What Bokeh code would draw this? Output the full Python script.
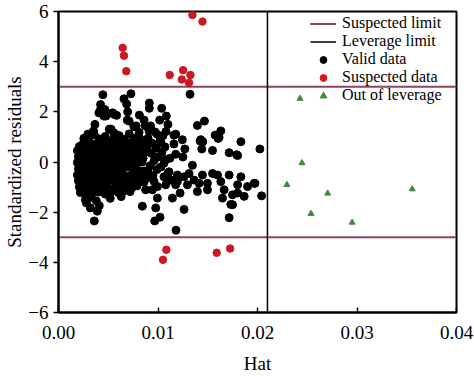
from bokeh.plotting import figure
from bokeh.models import FixedTicker, CustomJSTickFormatter
from bokeh.embed import file_html
from bokeh.resources import INLINE

# ---------------- data ----------------
x_ticks = [0.0, 0.01, 0.02, 0.03, 0.04]
y_ticks = [-6, -4, -2, 0, 2, 4, 6]
suspected_limit = 3.0
leverage_limit = 0.021

# valid data (hat, standardized residual)
valid_points = [
    # dense cluster rows
    (0.0026, 0.95), (0.0030, 1.10), (0.0036, 1.08), (0.0041, 0.92), (0.0047, 1.02), (0.0053, 1.30),
    (0.0056, 0.98), (0.0061, 1.05), (0.0066, 0.90), (0.0071, 1.12), (0.0076, 0.95), (0.0081, 1.00), (0.0086, 0.85),
    (0.0021, 0.62), (0.0025, 0.75), (0.0031, 0.80), (0.0035, 0.70), (0.0040, 0.78), (0.0045, 0.72), (0.0050, 0.82),
    (0.0055, 0.74), (0.0060, 0.79), (0.0065, 0.70), (0.0070, 0.76), (0.0075, 0.68), (0.0080, 0.74), (0.0085, 0.70), (0.0089, 0.62),
    (0.0019, 0.45), (0.0024, 0.52), (0.0029, 0.48), (0.0034, 0.55), (0.0038, 0.46), (0.0043, 0.52), (0.0048, 0.47),
    (0.0053, 0.55), (0.0058, 0.48), (0.0063, 0.53), (0.0068, 0.45), (0.0073, 0.50), (0.0078, 0.44), (0.0083, 0.52), (0.0088, 0.40),
    (0.0020, 0.22), (0.0025, 0.28), (0.0030, 0.20), (0.0035, 0.26), (0.0040, 0.22), (0.0045, 0.30), (0.0050, 0.21),
    (0.0055, 0.27), (0.0060, 0.24), (0.0065, 0.18), (0.0070, 0.28), (0.0075, 0.22), (0.0080, 0.25), (0.0085, 0.15),
    (0.0019, -0.02), (0.0023, 0.05), (0.0028, -0.04), (0.0033, 0.03), (0.0038, -0.05), (0.0043, 0.02), (0.0048, -0.03),
    (0.0053, 0.04), (0.0058, -0.02), (0.0063, 0.05), (0.0068, -0.04), (0.0073, 0.02), (0.0078, -0.06), (0.0084, 0.00),
    (0.0020, -0.27), (0.0025, -0.22), (0.0030, -0.28), (0.0035, -0.24), (0.0040, -0.30), (0.0045, -0.22), (0.0050, -0.27),
    (0.0055, -0.23), (0.0060, -0.29), (0.0065, -0.25), (0.0070, -0.20), (0.0075, -0.28), (0.0080, -0.33), (0.0086, -0.36),
    (0.0019, -0.52), (0.0024, -0.48), (0.0029, -0.55), (0.0034, -0.50), (0.0039, -0.46), (0.0044, -0.53), (0.0049, -0.49),
    (0.0054, -0.55), (0.0059, -0.47), (0.0064, -0.52), (0.0069, -0.56), (0.0074, -0.50), (0.0079, -0.54), (0.0085, -0.58), (0.0090, -0.62),
    (0.0020, -0.75), (0.0025, -0.80), (0.0030, -0.72), (0.0035, -0.78), (0.0040, -0.74), (0.0045, -0.80), (0.0050, -0.76),
    (0.0055, -0.72), (0.0060, -0.79), (0.0065, -0.75), (0.0070, -0.82), (0.0075, -0.77), (0.0080, -0.72), (0.0086, -0.80),
    (0.0021, -1.00), (0.0026, -1.05), (0.0031, -0.98), (0.0036, -1.04), (0.0041, -0.97), (0.0046, -1.02),
    (0.0051, -1.06), (0.0057, -0.99), (0.0062, -1.03), (0.0068, -0.96), (0.0074, -1.02), (0.0079, -0.95),
    (0.0022, -1.22), (0.0028, -1.30), (0.0034, -1.25), (0.0040, -1.20), (0.0047, -1.28), (0.0053, -1.18),
    (0.0060, -1.22), (0.0066, -1.15), (0.0072, -1.18),
    # lower fringe of cluster
    (0.0027, -1.50), (0.0032, -1.42), (0.0038, -1.55), (0.0028, -1.63), (0.0032, -1.83), (0.0041, -1.74),
    (0.0036, -2.35), (0.0039, -1.96), (0.0052, -1.45), (0.0063, -1.38),
    # upper fringe
    (0.00446, 2.68), (0.00728, 2.72), (0.00658, 2.52), (0.00685, 2.31), (0.00913, 2.35), (0.00913, 2.14),
    (0.01037, 2.14), (0.00423, 2.29), (0.00423, 2.09), (0.00466, 2.09), (0.00406, 1.96), (0.00476, 1.83),
    (0.00544, 1.96), (0.00584, 1.86), (0.00695, 2.00), (0.00692, 1.67), (0.00813, 1.87), (0.00860, 1.67),
    (0.01084, 1.83), (0.01017, 1.67), (0.00366, 1.50), (0.00352, 1.24), (0.00758, 1.41), (0.00926, 1.44),
    (0.00295, 1.11), (0.00356, 1.11), (0.00524, 1.31), (0.00607, 1.05), (0.00255, 0.94),
    (0.00557, 1.90), (0.00456, 1.83), (0.00710, 1.63), (0.00780, 1.44), (0.00510, 1.31), (0.00560, 1.15),
    (0.00310, 1.05), (0.00810, 1.18), (0.00990, 1.11), (0.01100, 1.50), (0.01030, 0.78),
    # cluster continuation 0.009 - 0.011
    (0.0090, 0.95), (0.0094, 0.75), (0.0098, 0.55), (0.0093, 0.35), (0.0100, 0.20), (0.0096, 0.05),
    (0.0104, 0.40), (0.0102, 0.85), (0.0107, 0.60), (0.0092, -0.15), (0.0099, -0.30), (0.0108, 0.10),
    (0.0091, 1.25), (0.0087, 1.45), (0.0097, 1.20), (0.0105, 1.05),
    (0.0090, -0.40), (0.0095, -0.55), (0.0103, -0.20), (0.0110, -0.45), (0.0106, -0.05), (0.0112, 0.15),
    # scattered points right of cluster
    (0.01322, 2.70), (0.01467, 1.63), (0.01396, 1.46), (0.01080, 1.22), (0.01160, 1.07), (0.01245, 0.89),
    (0.01430, 0.89), (0.01574, 1.07), (0.01631, 1.24), (0.01614, 0.98), (0.01548, 0.46), (0.01440, 0.52),
    (0.01450, 0.81), (0.01160, 0.72), (0.01178, 0.31), (0.01270, 0.52), (0.01346, -0.13), (0.01715, 0.37),
    (0.01800, 0.26), (0.01833, 0.81), (0.01605, 0.94), (0.02024, 0.52), (0.01423, 0.84), (0.01178, 1.11),
    (0.01250, 0.20), (0.01790, 0.29),
    # tail band
    (0.01060, -0.59), (0.01128, -0.72), (0.01195, -0.78), (0.01262, -0.59), (0.01362, -0.72), (0.01447, -0.52),
    (0.01497, -0.85), (0.01548, -0.46), (0.01598, -0.52), (0.01631, -0.78), (0.01715, -0.52), (0.01833, -0.59),
    (0.01800, -0.91), (0.01900, -0.98), (0.01967, -0.85), (0.01665, -1.11), (0.01648, -1.44), (0.01749, -1.31),
    (0.01800, -1.24), (0.01866, -1.37), (0.02041, -1.35), (0.01749, -1.70), (0.01715, -2.22), (0.01396, -1.18),
    (0.01497, -1.11), (0.01262, -1.89), (0.01181, -2.72), (0.01222, -1.24), (0.00977, -1.83), (0.01020, -2.20),
    (0.00967, -2.35), (0.00843, -1.76), (0.00994, -1.44), (0.00944, -1.11), (0.00876, -1.11), (0.01145, -1.44),
    (0.01178, -0.91), (0.01078, -0.91), (0.00994, -0.98), (0.00960, -0.78), (0.00893, -0.59), (0.01413, -0.85),
    (0.01296, -0.91), (0.01111, -0.39), (0.01195, -0.52), (0.01312, -0.46), (0.01974, -0.85), (0.01732, -1.69),
]
valid_hat = [pt[0] for pt in valid_points]
valid_res = [pt[1] for pt in valid_points]

suspected_hat = [0.00645, 0.00658, 0.00681, 0.01118, 0.01252, 0.01239, 0.01326, 0.01312, 0.01346, 0.01447,
                 0.01050, 0.01084, 0.01590, 0.01725]
suspected_res = [4.55, 4.24, 3.62, 3.47, 3.66, 3.29, 3.47, 3.16, 5.86, 5.60,
                 -3.90, -3.50, -3.62, -3.45]

leverage_hat = [0.02427, 0.02447, 0.02296, 0.02705, 0.02538, 0.02951, 0.03555]
leverage_res = [2.53, -0.04, -0.91, -1.25, -2.06, -2.41, -1.08]

# ---------------- figure ----------------
FONT = "Liberation Serif"
limit_color = "#8b4466"

p = figure(width=474, height=376, x_range=(x_ticks[0], x_ticks[-1]), y_range=(y_ticks[0], y_ticks[-1]),
           output_backend="svg", toolbar_location=None,
           min_border_left=58, min_border_right=18, min_border_top=11, min_border_bottom=64)

p.line([x_ticks[0], x_ticks[-1]], [suspected_limit, suspected_limit], line_color=limit_color,
       line_width=2, legend_label="Suspected limit")
p.line([x_ticks[0], x_ticks[-1]], [-suspected_limit, -suspected_limit], line_color=limit_color,
       line_width=2, legend_label="Suspected limit")
p.line([leverage_limit, leverage_limit], [y_ticks[0], y_ticks[-1]], line_color="black",
       line_width=1.5, legend_label="Leverage limit")

p.scatter(valid_hat, valid_res, size=8, color="black", legend_label="Valid data")
p.scatter(suspected_hat, suspected_res, size=7.5, color="#cc1820", legend_label="Suspected data")
p.scatter(leverage_hat, leverage_res, marker="triangle", size=6, color="#3f8a3f",
          legend_label="Out of leverage")

p.grid.visible = False
p.outline_line_color = "black"
p.outline_line_width = 2
p.outline_line_alpha = 1

p.xaxis.ticker = FixedTicker(ticks=x_ticks)
p.yaxis.ticker = FixedTicker(ticks=y_ticks)
p.xaxis.formatter = CustomJSTickFormatter(code="return tick.toFixed(2);")
p.yaxis.formatter = CustomJSTickFormatter(
    code="return tick < 0 ? '\\u2212' + Math.abs(tick) : String(tick);")

p.xaxis.axis_label = "Hat"
p.yaxis.axis_label = "Standardized residuals"

for ax in (p.xaxis, p.yaxis):
    ax.axis_line_width = 2
    ax.axis_line_color = "black"
    ax.major_tick_line_width = 1.5
    ax.minor_tick_line_color = None
    ax.major_label_text_font = FONT
    ax.major_label_text_font_size = "19px"
    ax.major_label_text_color = "black"
    ax.axis_label_text_font = FONT
    ax.axis_label_text_font_size = "19px"
    ax.axis_label_text_font_style = "normal"
    ax.axis_label_text_color = "black"

p.xaxis.major_tick_in = 5
p.xaxis.major_tick_out = 0
p.xaxis.major_label_standoff = 13
p.xaxis.axis_label_standoff = 11

p.yaxis.major_tick_in = 0
p.yaxis.major_tick_out = 5
p.yaxis.major_label_standoff = 5
p.yaxis.axis_label_standoff = 0

lg = p.legend[0]
lg.location = "top_right"
lg.border_line_color = None
lg.background_fill_alpha = 0
lg.label_text_font = FONT
lg.label_text_font_size = "16px"
lg.label_text_line_height = 1.0
lg.label_text_color = "black"
lg.glyph_width = 26
lg.glyph_height = 17
lg.label_height = 17
lg.label_width = 111
lg.label_standoff = 6
lg.spacing = 0
lg.padding = 2
lg.margin = 3

open("out.html", "w").write(file_html(p, INLINE))
